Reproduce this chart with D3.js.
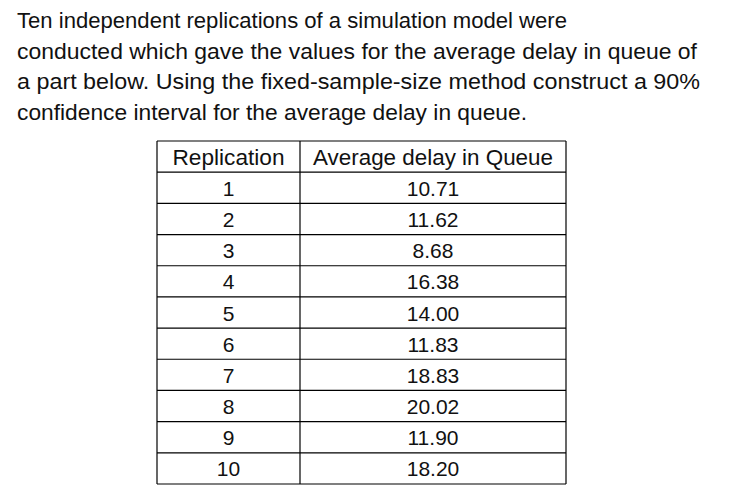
<!DOCTYPE html>
<html><head><meta charset="utf-8">
<script src="https://cdn.jsdelivr.net/npm/d3@7"></script>
<style>body{margin:0;background:#fff}</style>
</head><body>
<svg width="736" height="498"></svg>
<script>
const paragraph = [
  "Ten independent replications of a simulation model were",
  "conducted which gave the values for the average delay in queue of",
  "a part below. Using the fixed-sample-size method construct a 90%",
  "confidence interval for the average delay in queue."
];
const paraWidths = [550, 680, 683, 510];
const headers = ["Replication", "Average delay in Queue"];
const replications = [1, 2, 3, 4, 5, 6, 7, 8, 9, 10];
const delays = ["10.71", "11.62", "8.68", "16.38", "14.00", "11.83", "18.83", "20.02", "11.90", "18.20"];

const svg = d3.select("svg");
const font = "Liberation Sans, Arial, sans-serif";

svg.selectAll("text.para").data(paragraph).join("text")
  .attr("class", "para")
  .attr("x", 17)
  .attr("y", (d, i) => 28 + i * 30.5)
  .attr("font-family", font).attr("font-size", 22.5).attr("fill", "#111")
  .attr("textLength", (d, i) => paraWidths[i])
  .attr("lengthAdjust", "spacingAndGlyphs")
  .text(d => d);

// table
const rows = ["h"].concat(replications);
const y = d3.scaleBand().domain(d3.range(rows.length)).range([141, 484]);
const colEdges = [157, 300, 566];
const g = svg.append("g").attr("stroke", "#000").attr("stroke-width", 1.2);

g.selectAll("line.h").data(d3.range(rows.length + 1)).join("line")
  .attr("x1", colEdges[0]).attr("x2", colEdges[2])
  .attr("y1", i => i < rows.length ? y(i) : y(rows.length - 1) + y.bandwidth())
  .attr("y2", i => i < rows.length ? y(i) : y(rows.length - 1) + y.bandwidth());
g.selectAll("line.v").data(colEdges).join("line")
  .attr("x1", d => d).attr("x2", d => d)
  .attr("y1", 141).attr("y2", 484);

const cells = [];
rows.forEach((r, i) => {
  cells.push({i, c: 0, t: i === 0 ? headers[0] : String(replications[i - 1])});
  cells.push({i, c: 1, t: i === 0 ? headers[1] : delays[i - 1]});
});
svg.selectAll("text.cell").data(cells).join("text")
  .attr("x", d => (colEdges[d.c] + colEdges[d.c + 1]) / 2)
  .attr("y", d => y(d.i) + y.bandwidth() / 2 + 8)
  .attr("text-anchor", "middle")
  .attr("font-family", font).attr("font-size", d => d.i === 0 ? 22 : 21).attr("fill", "#111")
  .attr("textLength", d => d.i === 0 ? (d.c === 0 ? 112 : 240) : null)
  .attr("lengthAdjust", "spacingAndGlyphs")
  .text(d => d.t);
</script>
</body></html>
